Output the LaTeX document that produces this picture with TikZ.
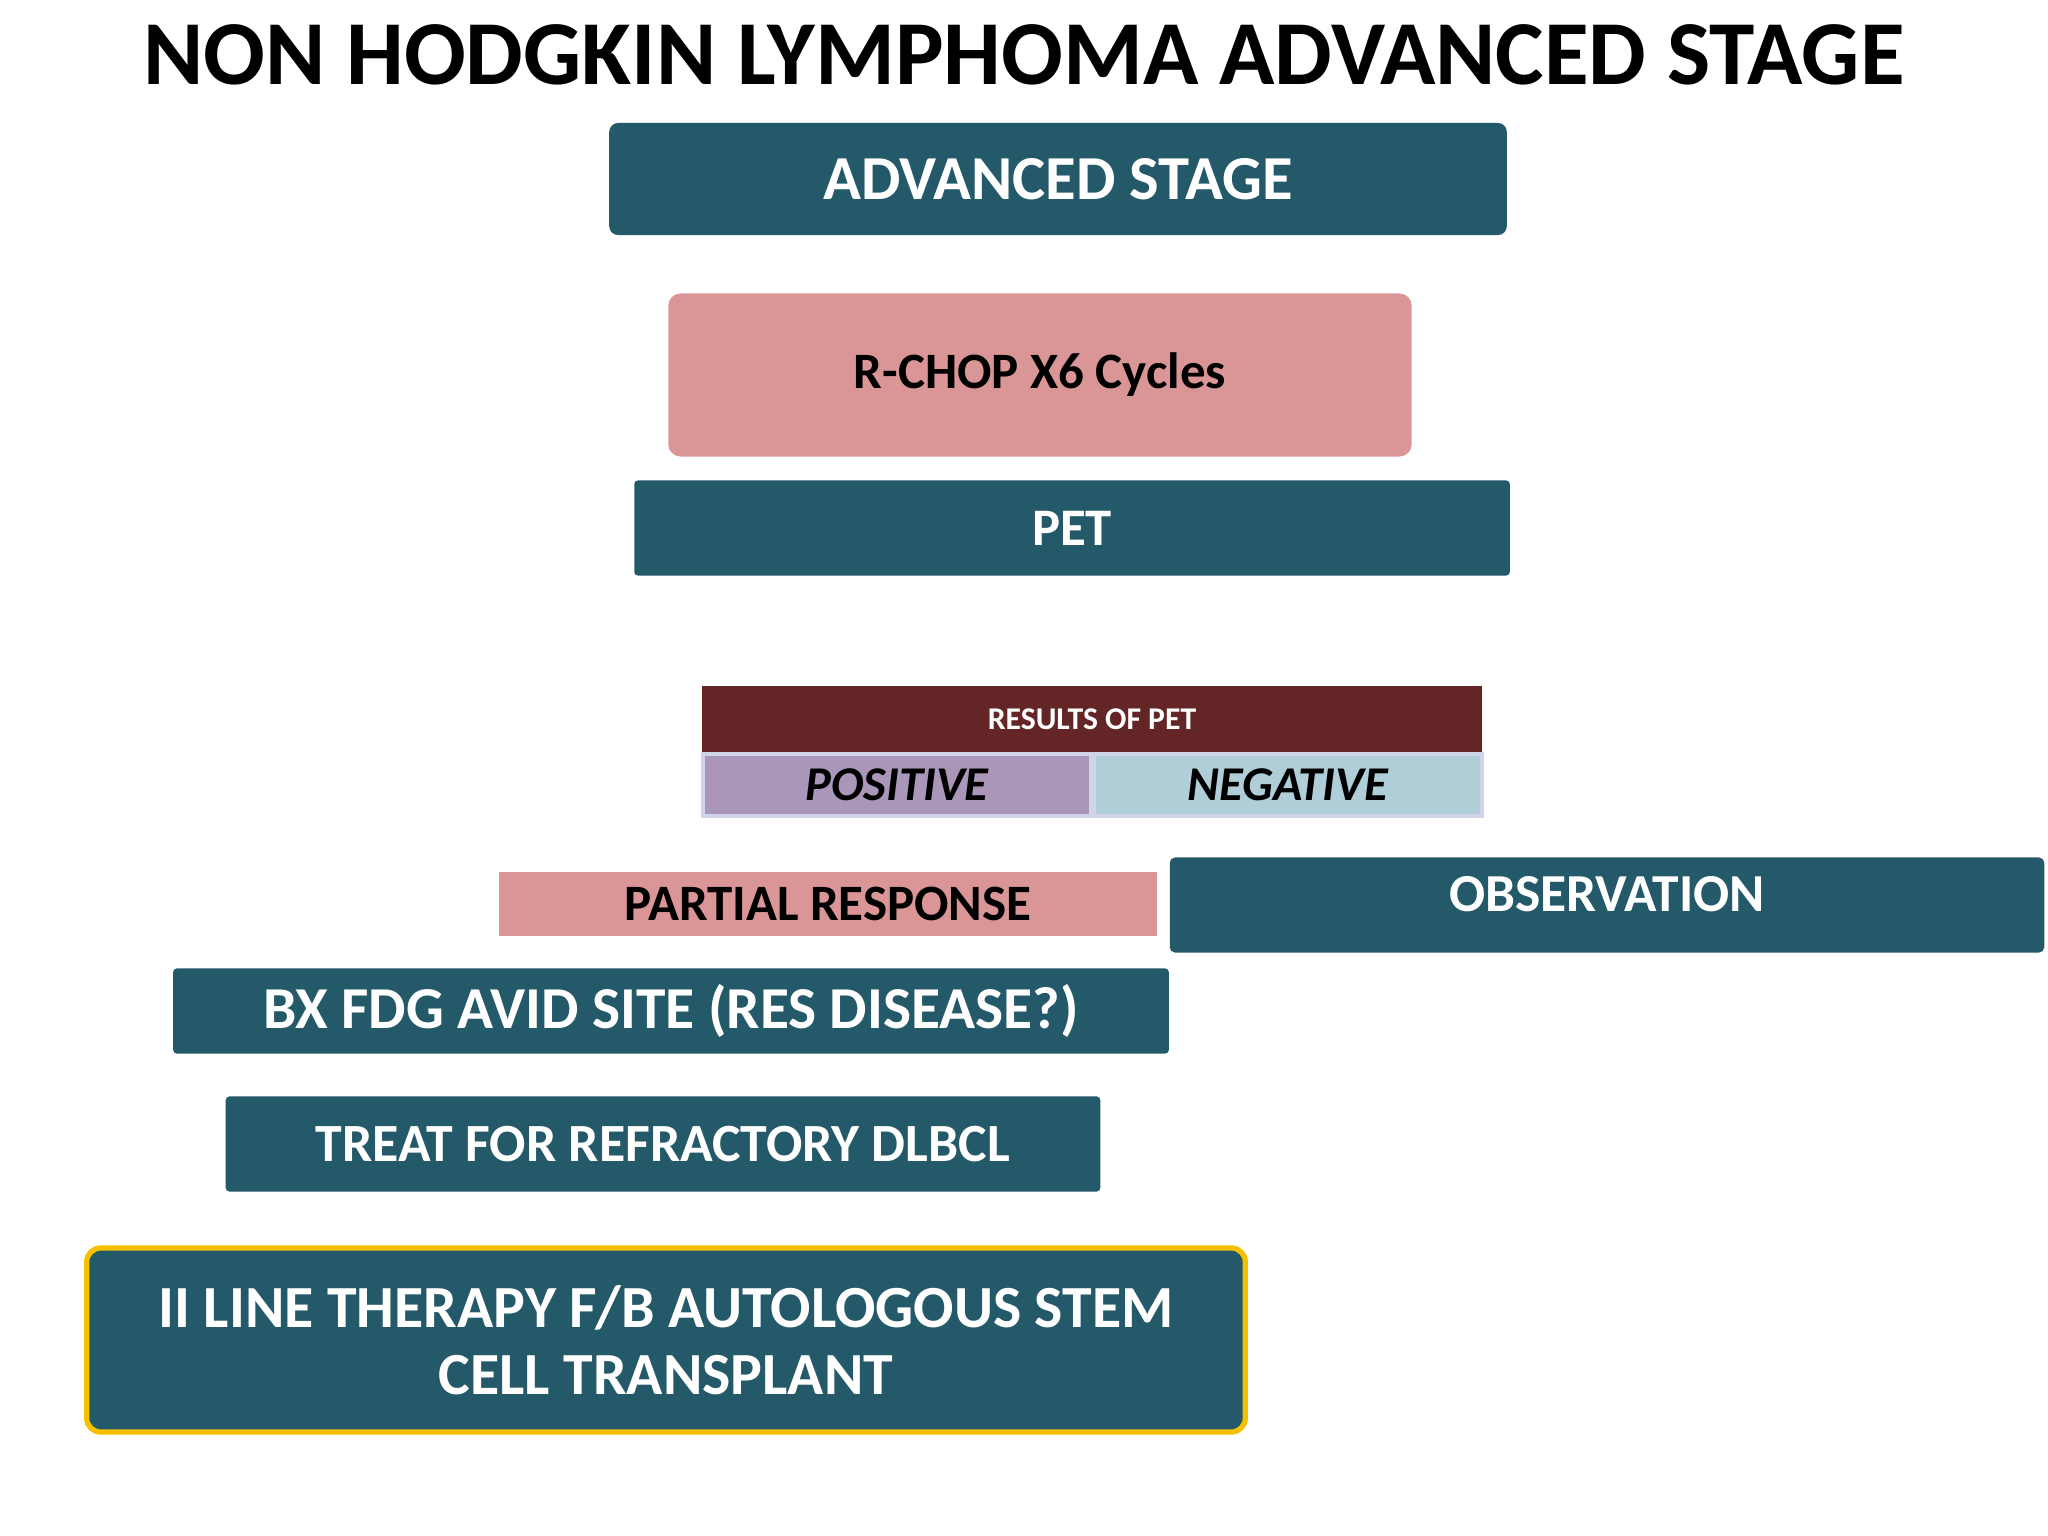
\documentclass[tikz,border=0pt]{standalone}
\usepackage{fontspec}
\setmainfont{Carlito}
\usepackage{tikz}
\usetikzlibrary{positioning}
\usepackage{xcolor}
\definecolor{teal}{RGB}{35,89,104}
\definecolor{rose}{RGB}{218,149,150}
\definecolor{maroon}{RGB}{99,37,37}
\definecolor{lilac}{RGB}{169,150,184}
\definecolor{paleblue}{RGB}{175,206,216}
\definecolor{lavline}{RGB}{208,212,232}
\definecolor{gold}{RGB}{245,192,0}

\begin{document}
\begin{tikzpicture}[
  x=0.01cm, y=-0.01cm,
  every node/.style={font=\bfseries, inner sep=0pt, align=center},
  tealbox/.style={fill=teal, text=white, font=\bfseries\fontsize{15}{18}\selectfont},
  rosebox/.style={fill=rose, text=black, font=\bfseries\fontsize{14.5}{17}\selectfont},
  resbox/.style={fill=#1, draw=lavline, line width=1.2pt, text=black,
                minimum width=3.88cm, minimum height=0.62cm,
                font=\bfseries\itshape\fontsize{13.8}{16}\selectfont}
]
\useasboundingbox (0,0) rectangle (2048,1536);

\node[font=\bfseries\fontsize{26}{30}\selectfont] (title) at (1024,55)
  {NON HODGKIN LYMPHOMA ADVANCED STAGE};

\node[tealbox, rounded corners=2.5pt, minimum width=8.97cm, minimum height=1.12cm,
  font=\bfseries\fontsize{17.8}{21}\selectfont] (adv) at (1058,179) {ADVANCED STAGE};

\node[rosebox, rounded corners=3.5pt, minimum width=7.43cm, minimum height=1.63cm]
  (rchop) at (1040,375) {R-CHOP X6 Cycles};

\node[tealbox, rounded corners=1pt, minimum width=8.75cm, minimum height=0.95cm]
  (pet) at (1072,528) {PET};

% results of pet
\node[fill=maroon, text=white, minimum width=7.79cm, minimum height=0.66cm,
  font=\bfseries\fontsize{9}{11}\selectfont] (res) at (1092,719) {RESULTS OF PET};
\node[resbox=lilac] (pos) at (897,785) {POSITIVE};
\node[resbox=paleblue] (neg) at (1288,785) {NEGATIVE};

\node[rosebox, minimum width=6.58cm, minimum height=0.63cm] (partial) at (828,904)
  {PARTIAL RESPONSE};
\node[tealbox, rounded corners=1.5pt, minimum width=8.74cm, minimum height=0.95cm,
  font=\bfseries\fontsize{15.2}{18}\selectfont,
  text height=0.36cm, text depth=0.23cm] (obs) at (1607,905) {OBSERVATION};

\node[tealbox, rounded corners=1pt, minimum width=9.95cm, minimum height=0.85cm,
  font=\bfseries\fontsize{16.9}{20}\selectfont] (bx) at (671,1011)
  {BX FDG AVID SITE (RES DISEASE?)};
\node[tealbox, rounded corners=1pt, minimum width=8.74cm, minimum height=0.95cm,
  font=\bfseries\fontsize{15.3}{18}\selectfont] (treat) at (663,1144)
  {TREAT FOR REFRACTORY DLBCL};

\node[tealbox, draw=gold, line width=1.5pt, rounded corners=4pt,
  minimum width=11.58cm, minimum height=1.84cm,
  font=\bfseries\fontsize{17}{19.1}\selectfont] (asct) at (666,1340)
  {II LINE THERAPY F/B AUTOLOGOUS STEM\\CELL TRANSPLANT};

\end{tikzpicture}
\end{document}
